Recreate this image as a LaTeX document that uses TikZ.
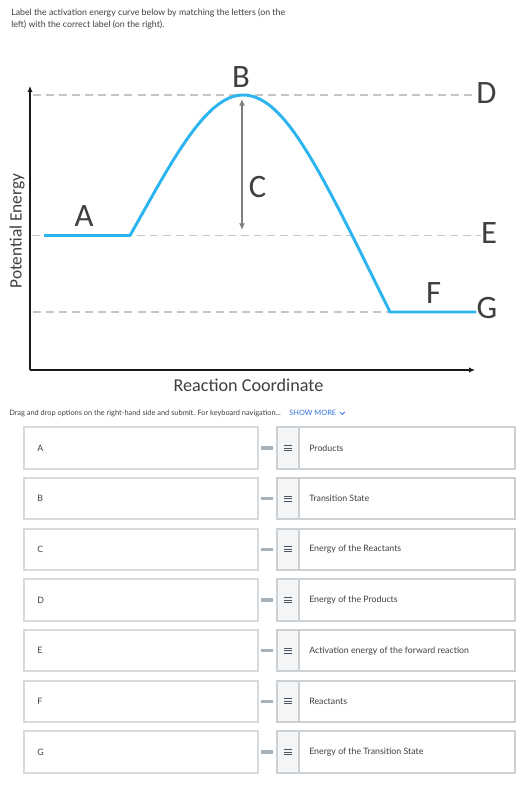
\documentclass[tikz,border=0pt]{standalone}
\usepackage{fontspec}
\setmainfont{Lato}
\newfontfamily\calfont{Carlito}
\usetikzlibrary{arrows.meta,calc}
\definecolor{curveblue}{HTML}{2CB4EE}
\definecolor{dashgray}{HTML}{C6C6C6}
\definecolor{arrowgray}{HTML}{7F7F7F}
\definecolor{labeltext}{HTML}{3F3F3F}
\definecolor{boxborder}{HTML}{D6DBE0}
\definecolor{handlefill}{HTML}{F4F5F6}
\definecolor{connector}{HTML}{A8B0B8}
\definecolor{linkblue}{HTML}{2F6FD6}
\definecolor{bodytext}{HTML}{404040}
\definecolor{icongray}{HTML}{4A5561}
\begin{document}
\begin{tikzpicture}[x=0.75pt,y=-0.75pt,
  bigletter/.style={font=\calfont\fontsize{24.5}{25}\selectfont, text=labeltext, inner sep=0pt},
  axislabel/.style={font=\calfont\fontsize{13}{15}\selectfont, text=labeltext, inner sep=0pt},
  guide/.style={dashgray, line width=0.8pt, dash pattern=on 6pt off 3.8pt},
  axisline/.style={line width=1.5pt, black!90, -{Latex[length=4.5pt,width=4pt]}},
  smalltext/.style={font=\fontsize{6.6}{9}\selectfont, text=bodytext, inner sep=0pt},
  hinttext/.style={font=\fontsize{5.55}{7}\selectfont, text=bodytext, inner sep=0pt},
  leftbox/.style={draw=boxborder, line width=1.5pt, fill=white, minimum width=176pt, minimum height=31pt, inner sep=0pt},
  rightbox/.style={draw=boxborder!95!black, line width=1.5pt, fill=white, minimum width=178.5pt, minimum height=31pt, inner sep=0pt},
  handle/.style={draw=boxborder!95!black, line width=1.5pt, fill=handlefill, minimum width=17pt, minimum height=31pt, inner sep=0pt},
  linkbar/.style={connector, line width=2.3pt, shorten <=1.5pt, shorten >=2pt}
]
\useasboundingbox[fill=white] (0,0) rectangle (526,788);

% instructions
\node[smalltext, anchor=north west, align=left] (title) at (11,8.5)
  {Label the activation energy curve below by matching the letters (on the\\left) with the correct label (on the right).};

% axes
\coordinate (origin) at (30,370);
\coordinate (ytop) at (30,86);
\coordinate (xend) at (475,370);
\draw[axisline] (origin) -- (ytop);
\draw[axisline] (origin) -- (xend);

% labels
\node[bigletter] (B) at (241,77) {B};
\node[bigletter] (C) at (257.5,187.5) {C};
\node[bigletter] (A) at (84,216.5) {A};
\node[bigletter] (D) at (486.5,93.5) {D};
\node[bigletter] (E) at (489,233.5) {E};
\node[bigletter] (F) at (433.5,293) {F};
\node[bigletter] (G) at (487,308) {G};

% guides
\coordinate (dstart) at (33,95);
\coordinate (estart) at (32,235.5);
\coordinate (gstart) at (33,312);
\draw[guide] (dstart) -- (dstart -| D.west);
\draw[guide] (estart) -- (estart -| E.west);
\draw[guide] (gstart) -- (gstart -| G.west);

% energy curve
\draw[curveblue, line width=2.2pt, line join=round]
  (44,235.5) -- (130,235.5)
  .. controls (170,165) and (205,95) .. (243,95)
  .. controls (285,95) and (320,170) .. (390,312)
  -- (476,312);

% activation arrow
\coordinate (ctop) at (242,99);
\coordinate (cbot) at (242,230);
\draw[arrowgray, line width=1.4pt, {Latex[length=5pt,width=4.5pt]}-{Latex[length=5pt,width=4.5pt]}] (ctop) -- (cbot);

% axis titles
\node[axislabel, rotate=90] (ylab) at (17,231) {Potential Energy};
\node[axislabel, font=\calfont\fontsize{13.6}{15}\selectfont] (xlab) at (248.5,385) {Reaction Coordinate};

% drag & drop hint
\node[hinttext, anchor=west] (hint) at (9,413)
  {Drag and drop options on the right-hand side and submit. For keyboard navigation...};
\node[hinttext, text=linkblue, anchor=west] (showmore) at ([xshift=6pt]hint.east) {SHOW MORE};
\draw[linkblue, line width=0.6pt] ([xshift=2.5pt,yshift=0.8pt]showmore.east) -- ++(2.5,2.5) -- ++(2.5,-2.5);

% matching rows
\foreach \i/\l/\r in {0/A/Products, 1/B/Transition State, 2/C/Energy of the Reactants,
  3/D/Energy of the Products, 4/E/Activation energy of the forward reaction,
  5/F/Reactants, 6/G/Energy of the Transition State}{
  \pgfmathsetmacro\yc{448+50.67*\i}
  \node[leftbox] (left\i) at (141,\yc) {};
  \node[rightbox] (right\i) at (395.5,\yc) {};
  \node[handle, anchor=west] (handle\i) at (right\i.west) {};
  \node[smalltext, anchor=west] (ltxt\i) at (37,\yc) {\l};
  \node[smalltext, anchor=west] (rtxt\i) at (309,\yc) {\r};
  \draw[linkbar] (left\i.east) -- (right\i.west);
  \foreach \dy in {-2.6,0,2.6}{
    \draw[icongray, line width=0.7pt] ($(handle\i.center)+(-3.8,\dy)$) -- ++(7.6,0);
  }
}
\end{tikzpicture}
\end{document}
